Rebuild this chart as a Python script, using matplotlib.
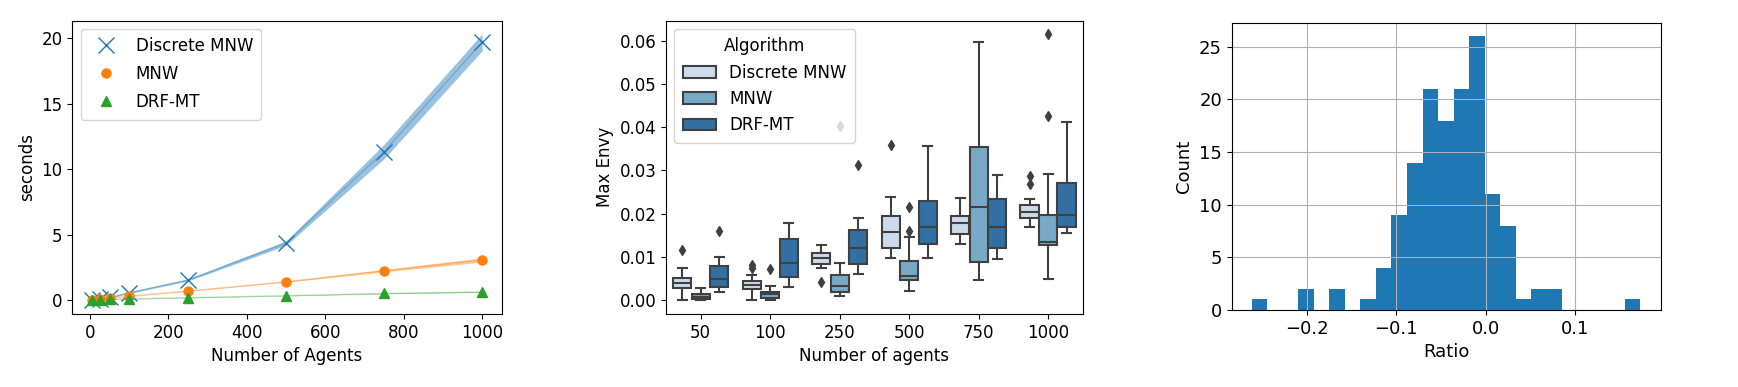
import colorsys

import matplotlib

matplotlib.use("Agg")
import matplotlib.pyplot as plt
import numpy as np
from matplotlib.patches import Patch

# ---- left panel: runtime vs number of agents ----
agents = [5, 25, 50, 100, 250, 500, 750, 1000]
time_discrete = [0.02, 0.08, 0.2, 0.56, 1.53, 4.35, 11.35, 19.7]
time_discrete_lo = [0.01, 0.06, 0.16, 0.50, 1.45, 4.18, 10.80, 19.05]
time_discrete_hi = [0.03, 0.10, 0.24, 0.62, 1.61, 4.52, 11.90, 20.35]
time_mnw = [0.02, 0.06, 0.14, 0.30, 0.69, 1.40, 2.24, 3.06]
time_mnw_lo = [0.01, 0.05, 0.12, 0.28, 0.66, 1.36, 2.15, 2.90]
time_mnw_hi = [0.03, 0.07, 0.16, 0.32, 0.72, 1.44, 2.33, 3.22]
time_drf = [0.01, 0.02, 0.04, 0.08, 0.18, 0.33, 0.50, 0.62]
time_drf_lo = [0.0, 0.01, 0.03, 0.07, 0.16, 0.31, 0.47, 0.58]
time_drf_hi = [0.02, 0.03, 0.05, 0.09, 0.20, 0.35, 0.53, 0.66]

# ---- middle panel: max envy box stats ----
groups = ["50", "100", "250", "500", "750", "1000"]
algorithms = ["Discrete MNW", "MNW", "DRF-MT"]
# per algorithm, per group
envy_whislo = [
    [0.0001, 0.0, 0.0075, 0.0097, 0.0130, 0.0168],
    [0.0, 0.0, 0.0009, 0.0022, 0.0046, 0.0048],
    [0.0019, 0.0031, 0.0060, 0.0097, 0.0094, 0.0156],
]
envy_q1 = [
    [0.0027, 0.0025, 0.0083, 0.0121, 0.0154, 0.0189],
    [0.0002, 0.0004, 0.0019, 0.0046, 0.0089, 0.0127],
    [0.0031, 0.0054, 0.0083, 0.0130, 0.0120, 0.0170],
]
envy_med = [
    [0.0040, 0.0035, 0.0097, 0.0158, 0.0178, 0.0205],
    [0.0008, 0.0013, 0.0032, 0.0056, 0.0215, 0.0135],
    [0.0049, 0.0085, 0.0120, 0.0168, 0.0168, 0.0197],
]
envy_q3 = [
    [0.0052, 0.0045, 0.0110, 0.0195, 0.0195, 0.0220],
    [0.0013, 0.0019, 0.0059, 0.0090, 0.0354, 0.0198],
    [0.0079, 0.0141, 0.0162, 0.0230, 0.0233, 0.0272],
]
envy_whishi = [
    [0.0075, 0.0058, 0.0127, 0.0239, 0.0236, 0.0233],
    [0.0027, 0.0032, 0.0085, 0.0147, 0.0598, 0.0293],
    [0.0100, 0.0179, 0.0189, 0.0357, 0.0290, 0.0412],
]
envy_fliers = [
    [[0.0117], [0.0074, 0.0080], [0.0042], [0.0359], [], [0.0268, 0.0287]],
    [[], [0.0071], [0.0402], [0.0160, 0.0216], [], [0.0427, 0.0615]],
    [[0.0160], [], [0.0312], [], [], []],
]

# ---- right panel: histogram of ratios ----
ratio_lo, ratio_hi = -0.262, 0.1729
ratio_counts = [1, 0, 0, 2, 0, 2, 0, 1, 4, 9, 14, 21, 18, 21, 26, 11, 8, 1, 2, 2, 0, 0, 0, 0, 1]


def desaturate(color, prop):
    h, l, s = colorsys.rgb_to_hls(*color[:3])
    return colorsys.hls_to_rgb(h, l, s * prop)


plt.rcParams["font.size"] = 12
fig = plt.figure(figsize=(17.38, 3.87), dpi=100)
ax1 = fig.add_axes([0.0416, 0.1886, 0.2471, 0.7580])
ax2 = fig.add_axes([0.3832, 0.1886, 0.2398, 0.7580])
ax3 = fig.add_axes([0.7087, 0.1990, 0.2470, 0.7426])

# left
series = [
    ("Discrete MNW", time_discrete, time_discrete_lo, time_discrete_hi, "C0", "x", 11),
    ("MNW", time_mnw, time_mnw_lo, time_mnw_hi, "C1", "o", 6.5),
    ("DRF-MT", time_drf, time_drf_lo, time_drf_hi, "C2", "^", 6.5),
]
for name, y, lo, hi, color, marker, ms in series:
    ax1.fill_between(agents, lo, hi, color=color, alpha=0.45, lw=0)
    ax1.plot(agents, y, color=color, lw=0.9, alpha=0.35)
    ax1.plot(agents, y, ls="none", marker=marker, color=color, ms=ms,
             mew=1.0, label=name)
ax1.set_xlim(-45, 1050)
ax1.set_ylim(-1.07, 21.35)
ax1.set_xticks([0, 200, 400, 600, 800, 1000])
ax1.set_yticks([0, 5, 10, 15, 20])
ax1.set_xlabel("Number of Agents")
ax1.set_ylabel("seconds")
ax1.legend(loc="upper left", borderpad=0.5, labelspacing=0.6)

# middle
blues = plt.get_cmap("Blues")
box_colors = [desaturate(blues(v), 0.75) for v in np.linspace(0, 1, 5)[1:-1]]
gray = "#404040"
box_w = 0.8 / 3
for a, name in enumerate(algorithms):
    stats = []
    for g in range(len(groups)):
        stats.append({
            "whislo": envy_whislo[a][g], "q1": envy_q1[a][g], "med": envy_med[a][g],
            "q3": envy_q3[a][g], "whishi": envy_whishi[a][g], "fliers": envy_fliers[a][g],
        })
    pos = np.arange(len(groups)) + (a - 1) * box_w
    ax2.bxp(stats, positions=pos, widths=box_w * 0.98, patch_artist=True,
            manage_ticks=False,
            boxprops={"facecolor": box_colors[a], "edgecolor": gray, "linewidth": 1.5},
            medianprops={"color": gray, "linewidth": 1.5},
            whiskerprops={"color": gray, "linewidth": 1.5},
            capprops={"color": gray, "linewidth": 1.5},
            flierprops={"marker": "d", "markerfacecolor": gray, "markeredgecolor": gray,
                        "markersize": 5})
ax2.set_xlim(-0.5, 5.5)
ax2.set_ylim(-0.00324, 0.0647)
ax2.set_xticks(range(len(groups)))
ax2.set_xticklabels(groups)
ax2.set_xlabel("Number of agents")
ax2.set_ylabel("Max Envy")
handles = [Patch(facecolor=box_colors[i], edgecolor=gray, linewidth=1.5, label=n)
           for i, n in enumerate(algorithms)]
ax2.legend(handles=handles, title="Algorithm", loc="upper left", borderpad=0.5)

# right
edges = np.linspace(ratio_lo, ratio_hi, len(ratio_counts) + 1)
centers = (edges[:-1] + edges[1:]) / 2
ax3.hist(centers, bins=edges, weights=ratio_counts, color="C0")
ax3.grid(True)
ax3.set_xticks([-0.2, -0.1, 0.0, 0.1])
ax3.set_xlim(-0.2843, 0.1963)
ax3.set_ylim(0, 27.3)
ax3.set_xlabel("Ratio", fontsize=13)
ax3.set_ylabel("Count", fontsize=13)
ax3.tick_params(labelsize=13)

fig.savefig("out.png", dpi=100)
